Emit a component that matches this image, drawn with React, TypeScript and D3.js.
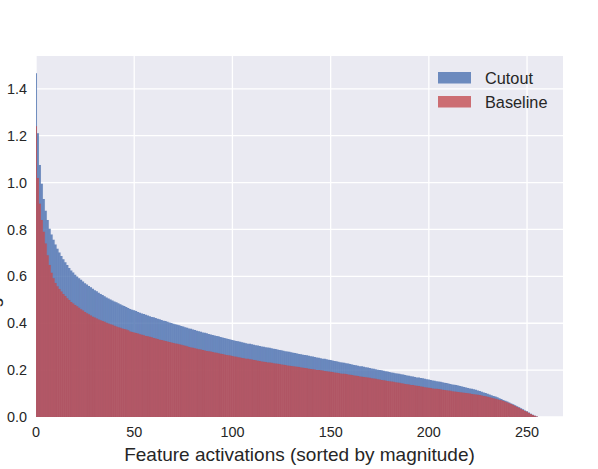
import { useMemo } from "react";
import * as d3 from "d3";

// Cutout — mean activation per feature, sorted
const cutout: number[] = [
  1.466, 1.210, 1.075, 0.995, 0.930, 0.880, 0.840, 0.803, 0.778, 0.756,
  0.736, 0.718, 0.702, 0.687, 0.673, 0.660, 0.648, 0.636, 0.625, 0.616,
  0.607, 0.599, 0.592, 0.585, 0.578, 0.571, 0.565, 0.559, 0.553, 0.547,
  0.541, 0.536, 0.530, 0.525, 0.520, 0.515, 0.510, 0.506, 0.501, 0.497,
  0.493, 0.489, 0.485, 0.481, 0.477, 0.473, 0.469, 0.465, 0.461, 0.458,
  0.455, 0.452, 0.448, 0.445, 0.442, 0.439, 0.436, 0.433, 0.430, 0.427,
  0.425, 0.422, 0.419, 0.417, 0.414, 0.411, 0.409, 0.406, 0.403, 0.401,
  0.398, 0.396, 0.393, 0.391, 0.388, 0.386, 0.383, 0.381, 0.378, 0.376,
  0.373, 0.371, 0.368, 0.366, 0.364, 0.361, 0.359, 0.357, 0.354, 0.352,
  0.350, 0.348, 0.346, 0.344, 0.341, 0.339, 0.337, 0.335, 0.333, 0.331,
  0.328, 0.326, 0.324, 0.323, 0.321, 0.319, 0.317, 0.315, 0.313, 0.312,
  0.310, 0.308, 0.306, 0.305, 0.303, 0.301, 0.300, 0.298, 0.296, 0.295,
  0.293, 0.291, 0.290, 0.288, 0.286, 0.285, 0.283, 0.281, 0.279, 0.278,
  0.276, 0.274, 0.273, 0.271, 0.269, 0.268, 0.266, 0.264, 0.263, 0.261,
  0.259, 0.258, 0.256, 0.254, 0.253, 0.251, 0.249, 0.248, 0.246, 0.244,
  0.243, 0.241, 0.239, 0.238, 0.236, 0.234, 0.233, 0.231, 0.229, 0.228,
  0.226, 0.224, 0.222, 0.221, 0.219, 0.217, 0.216, 0.214, 0.212, 0.211,
  0.209, 0.207, 0.206, 0.204, 0.202, 0.200, 0.199, 0.197, 0.195, 0.194,
  0.192, 0.190, 0.189, 0.187, 0.186, 0.184, 0.182, 0.181, 0.179, 0.177,
  0.176, 0.174, 0.173, 0.171, 0.169, 0.168, 0.166, 0.165, 0.163, 0.161,
  0.160, 0.158, 0.156, 0.155, 0.153, 0.151, 0.150, 0.148, 0.146, 0.145,
  0.143, 0.141, 0.139, 0.138, 0.136, 0.134, 0.132, 0.130, 0.128, 0.126,
  0.124, 0.122, 0.120, 0.118, 0.116, 0.113, 0.111, 0.108, 0.105, 0.102,
  0.099, 0.096, 0.093, 0.090, 0.087, 0.084, 0.080, 0.077, 0.073, 0.069,
  0.066, 0.062, 0.058, 0.054, 0.050, 0.046, 0.042, 0.037, 0.033, 0.028,
  0.024, 0.019, 0.014, 0.010, 0.005, 0.002,
];

// Baseline
const baseline: number[] = [
  1.240, 1.020, 0.910, 0.840, 0.790, 0.740, 0.690, 0.648, 0.615, 0.592,
  0.572, 0.558, 0.546, 0.535, 0.525, 0.516, 0.507, 0.499, 0.491, 0.484,
  0.478, 0.472, 0.466, 0.460, 0.454, 0.448, 0.443, 0.438, 0.433, 0.428,
  0.424, 0.420, 0.416, 0.413, 0.409, 0.406, 0.402, 0.399, 0.396, 0.393,
  0.389, 0.386, 0.383, 0.381, 0.378, 0.375, 0.373, 0.370, 0.365, 0.363,
  0.360, 0.358, 0.356, 0.353, 0.351, 0.349, 0.346, 0.344, 0.342, 0.340,
  0.337, 0.335, 0.333, 0.330, 0.328, 0.326, 0.324, 0.322, 0.320, 0.318,
  0.316, 0.314, 0.312, 0.310, 0.308, 0.306, 0.304, 0.302, 0.299, 0.297,
  0.295, 0.293, 0.291, 0.289, 0.288, 0.286, 0.284, 0.282, 0.281, 0.279,
  0.277, 0.275, 0.274, 0.272, 0.270, 0.269, 0.267, 0.265, 0.263, 0.262,
  0.260, 0.258, 0.257, 0.255, 0.254, 0.252, 0.251, 0.249, 0.248, 0.246,
  0.245, 0.243, 0.242, 0.240, 0.239, 0.237, 0.236, 0.235, 0.233, 0.232,
  0.231, 0.229, 0.228, 0.227, 0.226, 0.224, 0.223, 0.222, 0.220, 0.219,
  0.218, 0.217, 0.215, 0.214, 0.213, 0.211, 0.210, 0.209, 0.208, 0.206,
  0.205, 0.204, 0.203, 0.201, 0.200, 0.199, 0.198, 0.196, 0.195, 0.194,
  0.193, 0.192, 0.190, 0.189, 0.188, 0.186, 0.185, 0.184, 0.183, 0.181,
  0.180, 0.179, 0.177, 0.176, 0.175, 0.173, 0.172, 0.171, 0.170, 0.168,
  0.167, 0.165, 0.164, 0.163, 0.161, 0.160, 0.158, 0.157, 0.156, 0.154,
  0.153, 0.151, 0.150, 0.148, 0.147, 0.146, 0.144, 0.143, 0.141, 0.140,
  0.139, 0.137, 0.136, 0.134, 0.133, 0.132, 0.130, 0.129, 0.127, 0.126,
  0.125, 0.124, 0.122, 0.121, 0.120, 0.119, 0.118, 0.116, 0.115, 0.114,
  0.113, 0.112, 0.110, 0.109, 0.108, 0.107, 0.106, 0.104, 0.103, 0.102,
  0.101, 0.100, 0.098, 0.097, 0.096, 0.095, 0.094, 0.092, 0.090, 0.088,
  0.086, 0.084, 0.082, 0.080, 0.078, 0.076, 0.073, 0.071, 0.068, 0.065,
  0.062, 0.059, 0.055, 0.051, 0.047, 0.043, 0.039, 0.034, 0.030, 0.026,
  0.022, 0.017, 0.013, 0.009, 0.005, 0.002,
];

const xTicks = [0, 50, 100, 150, 200, 250];
const yTicks = [0, 0.2, 0.4, 0.6, 0.8, 1.0, 1.2, 1.4];
const seriesNames = ["Cutout", "Baseline"];

const W = 598;
const H = 469;
const margin = { top: 56, right: 35, bottom: 52, left: 36 };
const BG = "#EAEAF2";
const INK = "#262626";
const BLUE = "#4C72B0";
const RED = "#C44E52";
const FONT = "'Liberation Sans', Arial, sans-serif";

export default function App() {
  const innerW = W - margin.left - margin.right;
  const innerH = H - margin.top - margin.bottom;

  const x = useMemo(() => d3.scaleLinear().domain([0, 268.3]).range([0, innerW]), [innerW]);
  const y = useMemo(() => d3.scaleLinear().domain([0, 1.54]).range([innerH, 0]), [innerH]);

  // one path per series so neighbouring bars don't leave antialiasing seams
  const barsPath = (vals: number[]) => {
    const p = d3.path();
    vals.forEach((v, i) => {
      const x0 = x(i - 0.5);
      p.rect(x0, y(v), x(i + 0.5) - x0, innerH - y(v));
    });
    return p.toString();
  };

  return (
    <svg
      width={W}
      height={H}
      style={{ position: "absolute", left: 0, top: 0, background: "#fff" }}
      fontFamily={FONT}
    >
      <defs>
        <clipPath id="plot-clip">
          <rect x={0} y={0} width={innerW} height={innerH} />
        </clipPath>
      </defs>

      {/* y label, mostly off the left edge as in the original figure */}
      <text
        transform={`translate(-1,${margin.top + innerH / 2}) rotate(-90)`}
        textAnchor="middle"
        fontSize={19}
        fill={INK}
      >
        Magnitude of activation
      </text>

      <g transform={`translate(${margin.left},${margin.top})`}>
        <rect width={innerW} height={innerH} fill={BG} />

        {/* grid */}
        {xTicks.map((t) => (
          <line key={`gx${t}`} x1={x(t)} x2={x(t)} y1={0} y2={innerH} stroke="#fff" strokeWidth={1.3} />
        ))}
        {yTicks.map((t) => (
          <line key={`gy${t}`} x1={0} x2={innerW} y1={y(t)} y2={y(t)} stroke="#fff" strokeWidth={1.3} />
        ))}

        <g clipPath="url(#plot-clip)">
          <path d={barsPath(cutout)} fill={BLUE} fillOpacity={0.8} stroke={BLUE} strokeOpacity={0.08} strokeWidth={0.4} />
          <path d={barsPath(baseline)} fill={RED} fillOpacity={0.8} stroke={RED} strokeOpacity={0.08} strokeWidth={0.4} />
        </g>

        {/* tick labels */}
        {xTicks.map((t) => (
          <text key={`tx${t}`} x={x(t)} y={innerH + 20} textAnchor="middle" fontSize={14.4} fill={INK}>
            {t}
          </text>
        ))}
        {yTicks.map((t) => (
          <text key={`ty${t}`} x={-9} y={y(t)} dy="0.35em" textAnchor="end" fontSize={14.4} fill={INK}>
            {d3.format(".1f")(t)}
          </text>
        ))}

        <text x={innerW / 2} y={innerH + 44} textAnchor="middle" fontSize={19} fill={INK}>
          Feature activations (sorted by magnitude)
        </text>

        {/* legend */}
        {seriesNames.map((name, i) => (
          <g key={name} transform={`translate(${402},${16 + i * 24})`}>
            <rect x={0} y={0} width={33} height={11.5} fill={i === 0 ? BLUE : RED} fillOpacity={0.8} />
            <text x={47} y={6} dy="0.35em" fontSize={16.3} fill={INK}>
              {name}
            </text>
          </g>
        ))}
      </g>
    </svg>
  );
}
